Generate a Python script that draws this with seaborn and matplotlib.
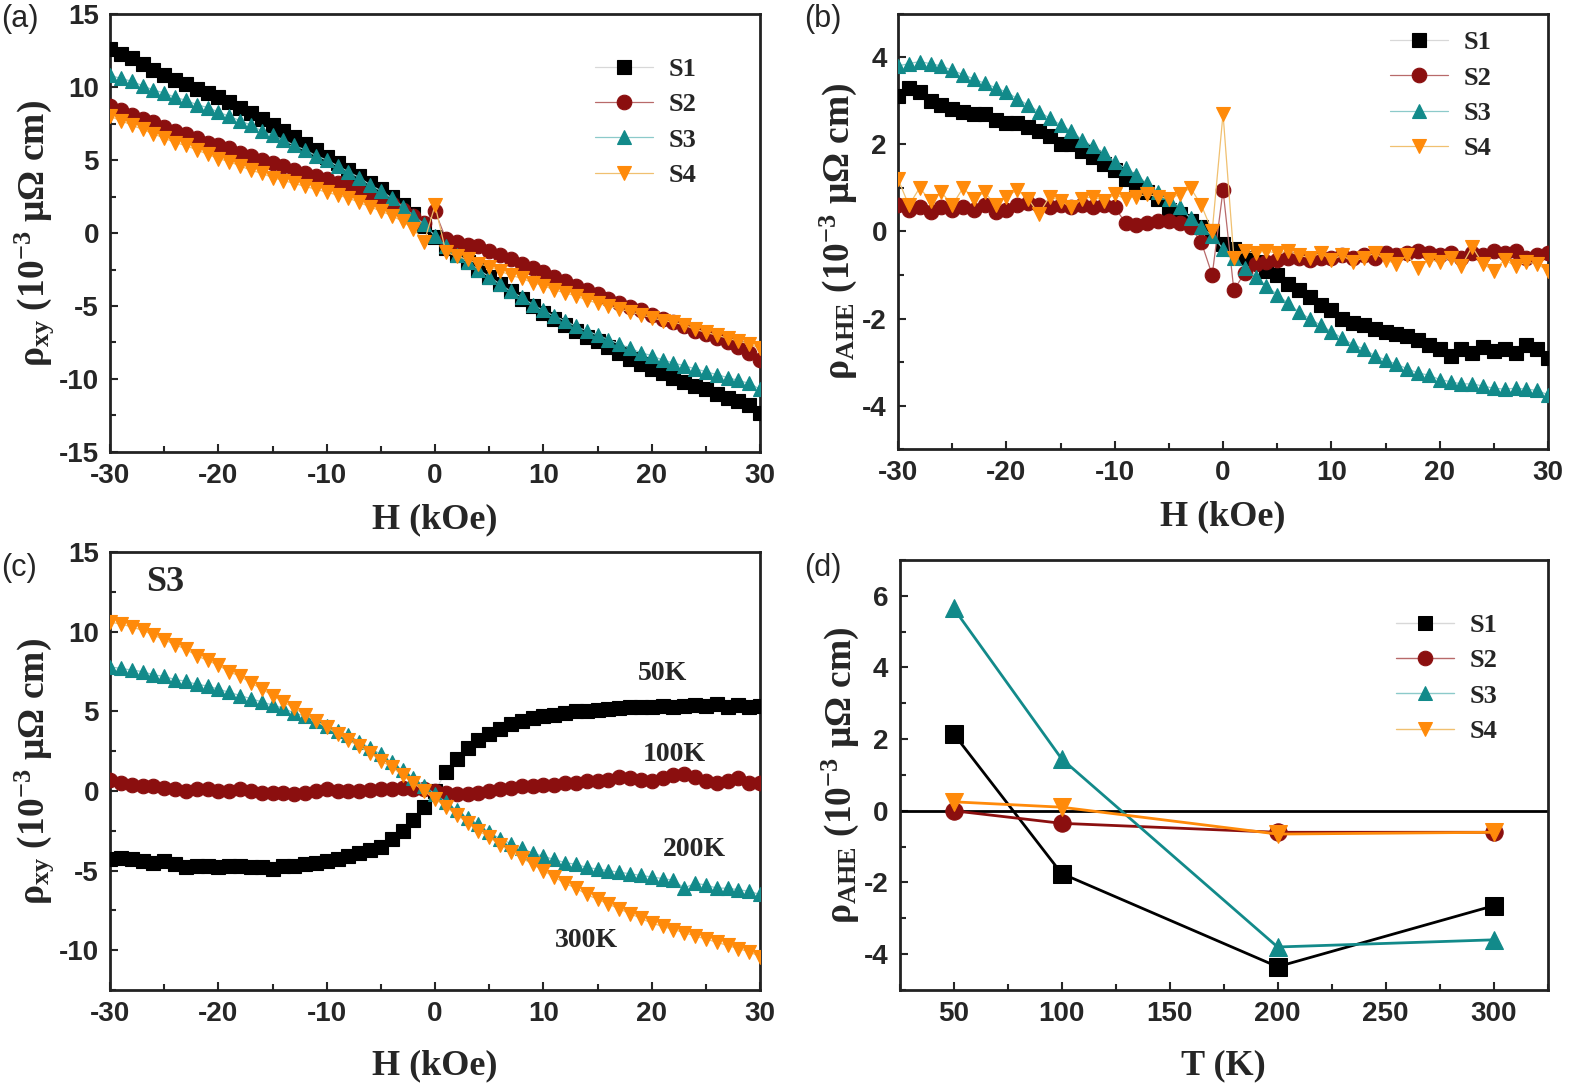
import numpy as np
import pandas as pd
import seaborn as sns
from matplotlib import pyplot as plt
from matplotlib.ticker import AutoMinorLocator

# Field axis (kOe) shared by panels a-c
H = list(range(-30, 31))

# (a) Hall resistivity of the four samples
rho_a_S1 = [12.6, 12.3, 12.0, 11.6, 11.2, 10.8, 10.5, 10.2, 9.9, 9.6, 9.3, 9.0, 8.6, 8.2, 7.8, 7.4,
            7.0, 6.6, 6.1, 5.7, 5.2, 4.8, 4.3, 3.9, 3.4, 3.0, 2.5, 1.9, 1.3, 0.5, -0.3, -1.0, -1.5,
            -2.0, -2.5, -3.0, -3.5, -4.0, -4.5, -5.0, -5.5, -5.9, -6.3, -6.7, -7.1, -7.4, -7.8,
            -8.2, -8.6, -9.0, -9.3, -9.6, -9.9, -10.2, -10.5, -10.7, -11.0, -11.3, -11.5, -11.8, -12.3]
rho_a_S2 = [8.7, 8.4, 8.1, 7.8, 7.6, 7.3, 7.0, 6.8, 6.5, 6.2, 6.0, 5.8, 5.5, 5.3, 5.0, 4.8, 4.6,
            4.3, 4.1, 3.9, 3.7, 3.4, 3.2, 2.9, 2.6, 2.3, 2.0, 1.6, 1.2, 0.7, 1.5, -0.4, -0.6, -0.8,
            -0.9, -1.2, -1.5, -1.8, -2.1, -2.4, -2.7, -3.0, -3.3, -3.6, -3.9, -4.2, -4.5, -4.8,
            -5.1, -5.3, -5.6, -5.9, -6.1, -6.4, -6.7, -6.9, -7.2, -7.5, -7.8, -8.2, -8.7]
rho_a_S3 = [10.8, 10.6, 10.4, 10.1, 9.8, 9.6, 9.3, 9.1, 8.8, 8.6, 8.3, 8.0, 7.7, 7.4, 7.0, 6.7,
            6.4, 6.0, 5.7, 5.3, 5.0, 4.6, 4.2, 3.8, 3.3, 2.9, 2.4, 1.8, 1.2, 0.6, -0.2, -0.9, -1.5,
            -2.0, -2.5, -3.0, -3.5, -4.0, -4.4, -4.9, -5.3, -5.7, -6.0, -6.4, -6.7, -7.0, -7.3,
            -7.6, -7.9, -8.2, -8.4, -8.7, -8.9, -9.1, -9.3, -9.5, -9.7, -9.9, -10.1, -10.3, -10.7]
rho_a_S4 = [8.0, 7.7, 7.4, 7.1, 6.8, 6.5, 6.2, 6.0, 5.7, 5.4, 5.1, 4.9, 4.6, 4.3, 4.1, 3.8, 3.6,
            3.4, 3.2, 3.0, 2.8, 2.6, 2.4, 2.1, 1.8, 1.5, 1.2, 0.8, 0.3, -0.6, 1.9, -1.3, -1.6, -1.8,
            -2.1, -2.3, -2.6, -2.9, -3.1, -3.4, -3.6, -3.9, -4.1, -4.3, -4.6, -4.8, -5.0, -5.2,
            -5.4, -5.6, -5.8, -6.0, -6.1, -6.3, -6.6, -6.8, -7.0, -7.2, -7.4, -7.6, -7.9]

# (b) anomalous Hall resistivity
rho_b_S1 = [3.1, 3.3, 3.2, 3.0, 2.9, 2.8, 2.75, 2.7, 2.7, 2.55, 2.5, 2.5, 2.4, 2.3, 2.2, 2.0,
            2.0, 1.85, 1.7, 1.55, 1.4, 1.2, 1.0, 0.9, 0.75, 0.5, 0.4, 0.25, 0.1, 0.0, -0.3, -0.4,
            -0.6, -0.7, -0.9, -1.0, -1.2, -1.35, -1.5, -1.7, -1.8, -2.0, -2.1, -2.15, -2.25, -2.3,
            -2.35, -2.4, -2.5, -2.6, -2.7, -2.85, -2.7, -2.8, -2.65, -2.75, -2.7, -2.8, -2.6, -2.7, -2.9]
rho_b_S2 = [0.6, 0.5, 0.55, 0.45, 0.55, 0.5, 0.55, 0.5, 0.6, 0.45, 0.5, 0.6, 0.65, 0.6, 0.55,
            0.6, 0.55, 0.6, 0.55, 0.6, 0.55, 0.2, 0.15, 0.2, 0.25, 0.25, 0.2, 0.1, -0.25, -1.0, 0.95,
            -1.35, -0.95, -0.75, -0.7, -0.65, -0.6, -0.6, -0.65, -0.6, -0.6, -0.55, -0.6, -0.55,
            -0.6, -0.5, -0.55, -0.5, -0.45, -0.5, -0.55, -0.5, -0.6, -0.5, -0.55, -0.45, -0.5,
            -0.45, -0.6, -0.55, -0.5]
rho_b_S3 = [3.8, 3.85, 3.9, 3.85, 3.8, 3.7, 3.6, 3.5, 3.4, 3.3, 3.2, 3.05, 2.9, 2.75, 2.6, 2.45,
            2.3, 2.1, 1.95, 1.8, 1.6, 1.45, 1.3, 1.1, 0.9, 0.75, 0.55, 0.3, 0.1, -0.1, -0.4, -0.6,
            -0.85, -1.05, -1.25, -1.45, -1.65, -1.85, -2.0, -2.15, -2.3, -2.45, -2.6, -2.7, -2.85,
            -2.95, -3.05, -3.15, -3.25, -3.3, -3.4, -3.45, -3.5, -3.5, -3.55, -3.6, -3.62, -3.6,
            -3.62, -3.65, -3.75]
rho_b_S4 = [1.2, 0.6, 1.0, 0.7, 0.9, 0.6, 1.0, 0.75, 0.9, 0.6, 0.8, 0.95, 0.75, 0.4, 0.8, 0.7,
            0.55, 0.75, 0.8, 0.7, 0.85, 0.75, 0.8, 0.85, 0.8, 0.75, 0.85, 1.0, 0.6, 0.0, 2.7, -0.6,
            -0.45, -0.5, -0.45, -0.5, -0.45, -0.55, -0.6, -0.5, -0.65, -0.55, -0.7, -0.6, -0.5,
            -0.65, -0.75, -0.55, -0.85, -0.65, -0.7, -0.6, -0.8, -0.35, -0.75, -0.9, -0.65, -0.8,
            -0.7, -0.75, -0.9]

# (c) S3 at different temperatures
rho_c_50K = [-4.3, -4.2, -4.3, -4.4, -4.5, -4.4, -4.6, -4.8, -4.7, -4.7, -4.8, -4.7, -4.7, -4.8,
             -4.8, -4.9, -4.7, -4.7, -4.6, -4.5, -4.4, -4.3, -4.1, -3.9, -3.7, -3.5, -3.0, -2.5,
             -1.8, -1.0, 0.0, 1.2, 2.0, 2.7, 3.2, 3.6, 3.9, 4.2, 4.4, 4.6, 4.7, 4.8, 4.9, 5.0, 5.0,
             5.1, 5.15, 5.2, 5.25, 5.3, 5.3, 5.35, 5.3, 5.35, 5.4, 5.35, 5.45, 5.3, 5.4, 5.3, 5.35]
rho_c_100K = [0.7, 0.5, 0.4, 0.3, 0.3, 0.2, 0.1, 0.0, 0.1, 0.1, 0.0, 0.0, 0.1, 0.0, -0.1, -0.1,
              -0.1, -0.2, -0.1, 0.0, 0.1, 0.0, 0.0, 0.0, 0.05, 0.1, 0.1, 0.2, 0.1, 0.1, 0.0, -0.1,
              -0.2, -0.2, -0.1, 0.0, 0.1, 0.2, 0.3, 0.3, 0.4, 0.4, 0.5, 0.5, 0.6, 0.6, 0.7, 0.9,
              0.8, 0.7, 0.6, 0.8, 1.0, 1.1, 0.9, 0.6, 0.5, 0.6, 0.8, 0.5, 0.5]
rho_c_200K = [7.8, 7.7, 7.6, 7.5, 7.3, 7.2, 7.0, 6.9, 6.7, 6.6, 6.4, 6.2, 6.0, 5.8, 5.6, 5.4, 5.2,
              4.9, 4.7, 4.4, 4.1, 3.8, 3.5, 3.1, 2.7, 2.3, 1.8, 1.3, 0.8, 0.3, -0.2, -0.7, -1.2,
              -1.7, -2.1, -2.6, -3.0, -3.3, -3.6, -3.9, -4.1, -4.3, -4.5, -4.6, -4.8, -4.9, -5.0,
              -5.1, -5.2, -5.3, -5.4, -5.5, -5.6, -6.1, -5.8, -5.9, -6.1, -6.1, -6.2, -6.3, -6.5]
rho_c_300K = [10.6, 10.5, 10.3, 10.1, 9.8, 9.5, 9.2, 8.9, 8.5, 8.2, 7.9, 7.5, 7.2, 6.8, 6.4, 6.0,
              5.6, 5.2, 4.8, 4.4, 4.0, 3.6, 3.2, 2.8, 2.4, 1.9, 1.5, 1.0, 0.5, 0.0, -0.5, -1.0, -1.5,
              -2.0, -2.5, -2.9, -3.4, -3.8, -4.2, -4.6, -5.0, -5.4, -5.8, -6.1, -6.5, -6.8, -7.1,
              -7.4, -7.7, -8.0, -8.3, -8.5, -8.7, -8.9, -9.1, -9.3, -9.5, -9.7, -9.9, -10.1, -10.4]

# (d) anomalous Hall resistivity vs temperature
T = [50, 100, 200, 300]
ahe_S1 = [2.15, -1.75, -4.35, -2.65]
ahe_S2 = [0.0, -0.35, -0.6, -0.6]
ahe_S3 = [5.65, 1.45, -3.8, -3.6]
ahe_S4 = [0.25, 0.1, -0.65, -0.6]

samples = ['S1', 'S2', 'S3', 'S4']
temps = ['50K', '100K', '200K', '300K']

sns.set_style('ticks')
plt.rcParams['axes.unicode_minus'] = False
plt.rcParams['mathtext.fontset'] = 'custom'
plt.rcParams['mathtext.rm'] = 'Liberation Serif:bold'
plt.rcParams['mathtext.it'] = 'Liberation Serif:bold'
plt.rcParams['mathtext.bf'] = 'Liberation Serif:bold'
plt.rcParams['font.family'] = ['Liberation Sans Narrow', 'Liberation Sans', 'DejaVu Sans']

dark = ['#000000', '#8b0f0f', '#128a8a', '#ff8a0a']
light = ['#d8d8d8', '#b86a6a', '#8ccaca', '#f0c070']
marks = ['s', 'o', '^', 'v']
SERIF = 'Liberation Serif'

fig = plt.figure(figsize=(15.7, 10.89), dpi=100)
ax_a = fig.add_axes([0.0701, 0.585, 0.414, 0.402])
ax_b = fig.add_axes([0.572, 0.5875, 0.414, 0.400])
ax_c = fig.add_axes([0.0701, 0.0909, 0.414, 0.402])
ax_d = fig.add_axes([0.573, 0.0909, 0.4127, 0.395])


def field_plot(ax, curves, names):
    df = pd.DataFrame({'H': H})
    for i, (name, vals) in enumerate(zip(names, curves)):
        df[name] = vals
        sns.lineplot(data=df, x='H', y=name, ax=ax, color=light[i], lw=0.9,
                     marker=marks[i], markersize=10.5, markerfacecolor=dark[i],
                     markeredgecolor=dark[i], markeredgewidth=0.8, label=name, zorder=3 + i)


def style_axes(ax, xlabel, ylabel, xlim, ylim, xmaj, ymaj, xpad=10):
    ax.set_xlim(*xlim)
    ax.set_ylim(*ylim)
    ax.set_xticks(xmaj)
    ax.set_yticks(ymaj)
    ax.xaxis.set_minor_locator(AutoMinorLocator(2))
    ax.yaxis.set_minor_locator(AutoMinorLocator(2))
    ax.tick_params(which='both', direction='in', width=1.5, top=False, right=False)
    ax.tick_params(which='major', length=6, labelsize=20, pad=8)
    ax.tick_params(which='minor', length=4)
    for lab in ax.get_xticklabels() + ax.get_yticklabels():
        lab.set_fontweight('bold')
    for sp in ax.spines.values():
        sp.set_linewidth(2)
        sp.set_color('#222222')
    ax.set_xlabel(xlabel, fontsize=26, fontweight='bold', family=SERIF, labelpad=xpad)
    ax.set_ylabel(ylabel, fontsize=27, fontweight='bold', family=SERIF, labelpad=2)


def legend(ax, anchor):
    leg = ax.legend(loc='upper left', bbox_to_anchor=anchor, frameon=False, handlelength=2.2,
                    labelspacing=0.45, handletextpad=0.6, borderaxespad=0,
                    prop={'family': SERIF, 'weight': 'bold', 'size': 19})
    return leg


ylab_xy = r'ρ$_{xy}$ (10$^{-3}$ μΩ cm)'
ylab_ahe = r'ρ$_{AHE}$ (10$^{-3}$ μΩ cm)'

# (a)
field_plot(ax_a, [rho_a_S1, rho_a_S2, rho_a_S3, rho_a_S4], samples)
style_axes(ax_a, 'H (kOe)', ylab_xy, (-30, 30), (-15, 15), range(-30, 31, 10), range(-15, 16, 5))
legend(ax_a, (0.73, 0.925))

# (b)
field_plot(ax_b, [rho_b_S1, rho_b_S2, rho_b_S3, rho_b_S4], samples)
style_axes(ax_b, 'H (kOe)', ylab_ahe, (-30, 30), (-5, 5), range(-30, 31, 10), range(-4, 5, 2))
legend(ax_b, (0.74, 0.985))

# (c)
field_plot(ax_c, [rho_c_50K, rho_c_100K, rho_c_200K, rho_c_300K], temps)
ax_c.get_legend().remove()
style_axes(ax_c, 'H (kOe)', ylab_xy, (-30, 30), (-12.5, 15), range(-30, 31, 10),
           range(-10, 16, 5), xpad=16)
ax_c.text(-24.9, 13.1, 'S3', fontsize=26, fontweight='bold', family=SERIF, ha='center', va='center')
lab_pos = [(21.0, 7.4), (22.1, 2.3), (23.9, -3.7), (14.0, -9.4)]
for t, (x, y) in zip(temps, lab_pos):
    ax_c.text(x, y, t, fontsize=20, fontweight='bold', family=SERIF, ha='center', va='center')

# (d)
dfd = pd.DataFrame({'T': T, 'S1': ahe_S1, 'S2': ahe_S2, 'S3': ahe_S3, 'S4': ahe_S4})
ax_d.axhline(0, color='black', lw=2, zorder=1)
for i, s in enumerate(samples):
    sns.lineplot(data=dfd, x='T', y=s, ax=ax_d, color=dark[i], lw=2, marker=marks[i],
                 markersize=12.5, markerfacecolor=dark[i], markeredgecolor=dark[i],
                 label=s, zorder=3 + i)
style_axes(ax_d, 'T (K)', ylab_ahe, (25, 325), (-5, 7), range(50, 301, 50), range(-4, 7, 2),
           xpad=16)
leg_d = legend(ax_d, (0.75, 0.90))
for i, h in enumerate(leg_d.get_lines()):
    h.set_color(light[i])
    h.set_linewidth(1)
    h.set_markerfacecolor(dark[i])
    h.set_markeredgecolor(dark[i])
    h.set_markersize(10.5)

for txt, x, y in [('(a)', 0.001, 0.983), ('(b)', 0.512, 0.983),
                  ('(c)', 0.001, 0.478), ('(d)', 0.512, 0.478)]:
    fig.text(x, y, txt, fontsize=22, family='Liberation Sans', ha='left', va='center')

plt.savefig('out.png', dpi=100)
